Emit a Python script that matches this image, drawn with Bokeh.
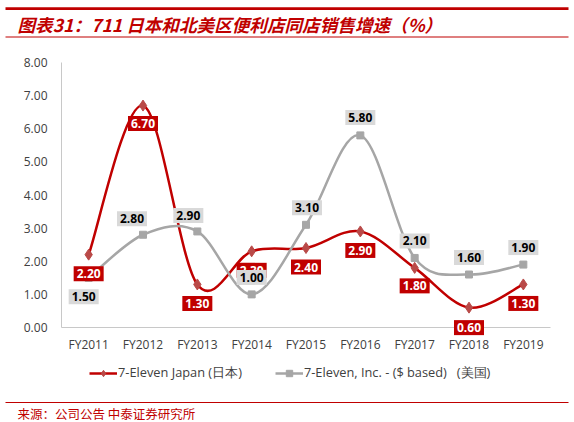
import numpy as np
from bokeh.plotting import figure
from bokeh.models import (Range1d, FixedTicker, NumeralTickFormatter, Legend,
                          LegendItem, ColumnDataSource, LinearAxis)
from bokeh.core.properties import value
from bokeh.embed import file_html
from bokeh.resources import INLINE

years = ["FY2011", "FY2012", "FY2013", "FY2014", "FY2015",
         "FY2016", "FY2017", "FY2018", "FY2019"]
japan = [2.2, 6.7, 1.3, 2.3, 2.4, 2.9, 1.8, 0.6, 1.3]
usa = [1.5, 2.8, 2.9, 1.0, 3.1, 5.8, 2.1, 1.6, 1.9]
y_ticks = [0, 1, 2, 3, 4, 5, 6, 7, 8]

title_text = "图表31：711 日本和北美区便利店同店销售增速（%）"
source_text = "来源：公司公告 中泰证券研究所"
japan_name = "7-Eleven Japan (日本)"
usa_name = "7-Eleven, Inc. - ($ based)\u00a0\u00a0 (美国)"

RED = "#C00000"
GREY = "#A6A6A6"
W, H = 574, 422
# plot area inside the canvas (pixels)
PL, PR, PT, PB = 61, 550, 62, 327
X0, X1, Y0, Y1 = -0.5, 8.5, 0, 8
kx = (PR - PL) / (X1 - X0)
ky = (PB - PT) / (Y1 - Y0)


def px(sx):
    return X0 + (sx - PL) / kx


def py(sy):
    return Y1 - (sy - PT) / ky


def smooth(xs, ys, t=1 / 6):
    # Excel-like smoothed line as cubic bezier segments
    x = np.asarray(xs, float)
    y = np.asarray(ys, float)
    xp = np.r_[x[0], x, x[-1]]
    yp = np.r_[y[0], y, y[-1]]
    return dict(
        x0=x[:-1], y0=y[:-1], x1=x[1:], y1=y[1:],
        cx0=x[:-1] + (xp[2:-1] - xp[:-3]) * t,
        cy0=y[:-1] + (yp[2:-1] - yp[:-3]) * t,
        cx1=x[1:] - (xp[3:] - xp[1:-2]) * t,
        cy1=y[1:] - (yp[3:] - yp[1:-2]) * t,
    )


xs = list(range(len(years)))

# the frame covers the whole canvas; axes are pinned to the plot area
p = figure(width=W, height=H, x_range=Range1d(px(0), px(W)), y_range=Range1d(py(H), py(0)),
           x_axis_type=None, y_axis_type=None,
           toolbar_location=None, output_backend="svg", min_border=0,
           outline_line_color=None)
p.grid.visible = False

xaxis = LinearAxis(ticker=FixedTicker(ticks=xs), fixed_location=Y0, bounds=(X0, X1),
                   major_label_overrides={i: years[i] for i in xs},
                   major_label_standoff=2)
yaxis = LinearAxis(ticker=FixedTicker(ticks=y_ticks), fixed_location=X0, bounds=(Y0, Y1),
                   formatter=NumeralTickFormatter(format="0.00"),
                   major_label_standoff=8)
for ax in (xaxis, yaxis):
    ax.level = "underlay"
    ax.axis_line_color = "#C8C8C8"
    ax.major_tick_line_color = None
    ax.minor_tick_line_color = None
    ax.major_label_text_font = "Open Sans"
    ax.major_label_text_font_size = "12px"
    ax.major_label_text_color = "#404040"
p.add_layout(xaxis, "below")
p.add_layout(yaxis, "left")

jp_curve = p.bezier(source=ColumnDataSource(smooth(xs, japan)), x0="x0", y0="y0",
                    x1="x1", y1="y1", cx0="cx0", cy0="cy0", cx1="cx1", cy1="cy1",
                    line_color=RED, line_width=2.5)
jp_pts = p.scatter(xs, japan, marker="diamond", size=11, color="#B94A48")
us_curve = p.bezier(source=ColumnDataSource(smooth(xs, usa)), x0="x0", y0="y0",
                    x1="x1", y1="y1", cx0="cx0", cy0="cy0", cx1="cx1", cy1="cy1",
                    line_color=GREY, line_width=2.5)
us_pts = p.scatter(xs, usa, marker="square", size=7, color=GREY)

# data labels (pixel offsets as placed in the original)
jp_dx = [0, 0, 0, 0, 0, 0, 0, 0, 0]
jp_dy = [19, 18, 19, 19, 19, 19, 18, 20, 19]
us_dx = [-5, -11, -9, 0, 1, 0, 0, 0, 0]
us_dy = [19, -16, -16, -17, -17, -18, -17, -17, -17]

p.text(source=ColumnDataSource(dict(x=xs, y=japan, t=["%.2f" % v for v in japan],
                                    dx=jp_dx, dy=jp_dy)),
       x="x", y="y", text="t", x_offset="dx", y_offset="dy",
       text_font=value("Open Sans"), text_font_size="12px", text_font_style="bold",
       text_color="white", text_align="center", text_baseline="middle",
       background_fill_color=RED, padding=3)
p.text(source=ColumnDataSource(dict(x=xs, y=usa, t=["%.2f" % v for v in usa],
                                    dx=us_dx, dy=us_dy)),
       x="x", y="y", text="t", x_offset="dx", y_offset="dy",
       text_font=value("Open Sans"), text_font_size="12px", text_font_style="bold",
       text_color="black", text_align="center", text_baseline="middle",
       background_fill_color="#D9D9D9", padding=3)

legend = Legend(items=[LegendItem(label=japan_name, renderers=[jp_curve, jp_pts]),
                       LegendItem(label=usa_name, renderers=[us_curve, us_pts])],
                orientation="horizontal", location=(89, H - 382),
                border_line_color=None, background_fill_alpha=0,
                padding=0, margin=0, spacing=33, glyph_width=28, glyph_height=16,
                label_standoff=1, label_text_font="Open Sans",
                label_text_font_size="12.8px", label_text_color="#404040")
p.add_layout(legend)

# header and footer: red rules, title, source
p.segment(x0=[px(5)] * 3, x1=[px(568)] * 3, y0=[py(8.2), py(36.5), py(402)],
          y1=[py(8.2), py(36.5), py(402)], line_color=RED,
          line_width=[2.7, 1.2, 1.2])
p.text(x=[px(17)], y=[py(23.5)], text=[title_text], text_font=value("Noto Sans CJK SC"),
       text_font_size="17.6px", text_font_style="bold italic", text_color=RED,
       text_baseline="middle", text_align="left")
p.text(x=[px(17)], y=[py(412.5)], text=[source_text], text_font=value("Noto Sans CJK SC"),
       text_font_size="12.5px", text_color=RED, text_baseline="middle",
       text_align="left")

open("out.html", "w").write(file_html(p, INLINE))
